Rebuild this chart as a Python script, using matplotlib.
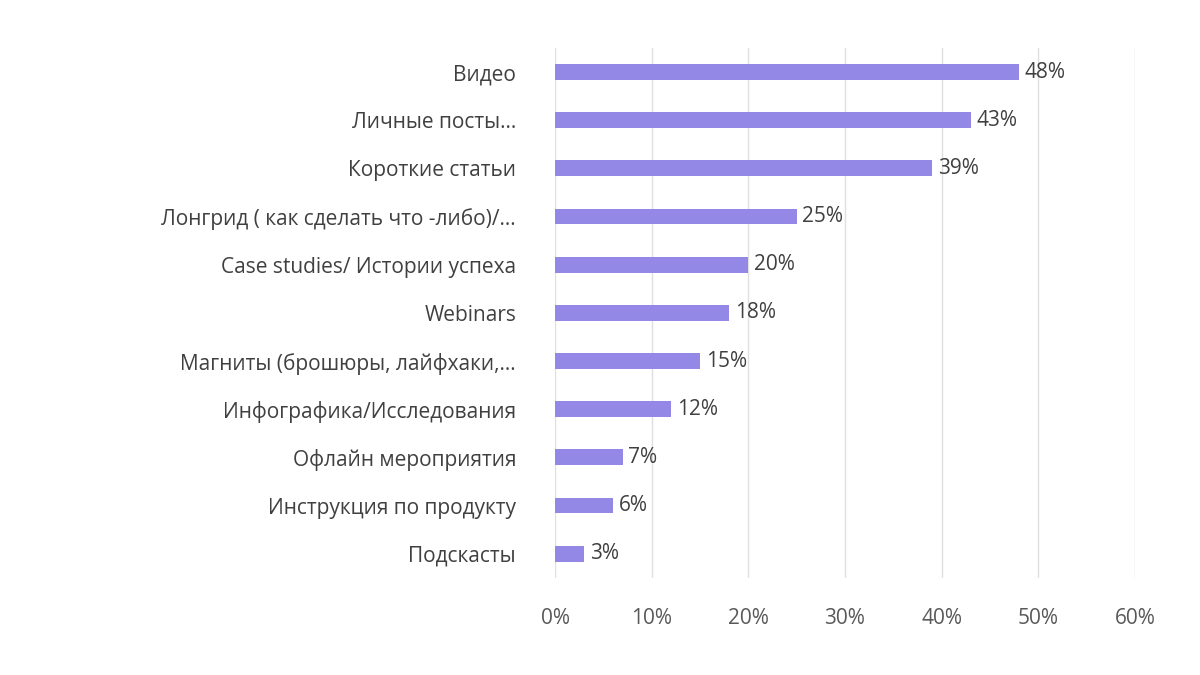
import matplotlib
matplotlib.use("Agg")
import matplotlib.pyplot as plt
from matplotlib.ticker import FuncFormatter

categories = ["Видео", "Личные посты...", "Короткие статьи", "Лонгрид ( как сделать что -либо)/...",
              "Case studies/ Истории успеха", "Webinars", "Магниты (брошюры, лайфхаки,...",
              "Инфографика/Исследования", "Офлайн мероприятия", "Инструкция по продукту", "Подскасты"]
values = [48, 43, 39, 25, 20, 18, 15, 12, 7, 6, 3]
ticks = [0, 10, 20, 30, 40, 50, 60]

plt.rcParams["font.family"] = "Open Sans"
fig = plt.figure(figsize=(12, 6.75), dpi=100)
ax = fig.add_axes([0.4625, 0.144, 0.4833, 0.785])
y = list(range(len(categories)))[::-1]
ax.barh(y, values, height=0.33, color="#9488E6", zorder=3)
for yi, v in zip(y, values):
    ax.text(v + 0.6, yi, f"{v}%", va="center", ha="left", fontsize=15, color="#404040")
ax.set_yticks(y)
ax.set_yticklabels(categories, fontsize=15, color="#404040")
ax.set_xlim(0, 60)
ax.set_ylim(-0.5, 10.5)
ax.set_xticks(ticks)
ax.xaxis.set_major_formatter(FuncFormatter(lambda v, p: f"{int(v)}%"))
ax.tick_params(axis="x", labelsize=15, colors="#595959", length=0, pad=22)
ax.tick_params(axis="y", length=0, pad=28)
ax.grid(axis="x", color="#E0E0E0", linewidth=1, zorder=0)
for s in ax.spines.values():
    s.set_visible(False)
fig.savefig("out.png", dpi=100)
